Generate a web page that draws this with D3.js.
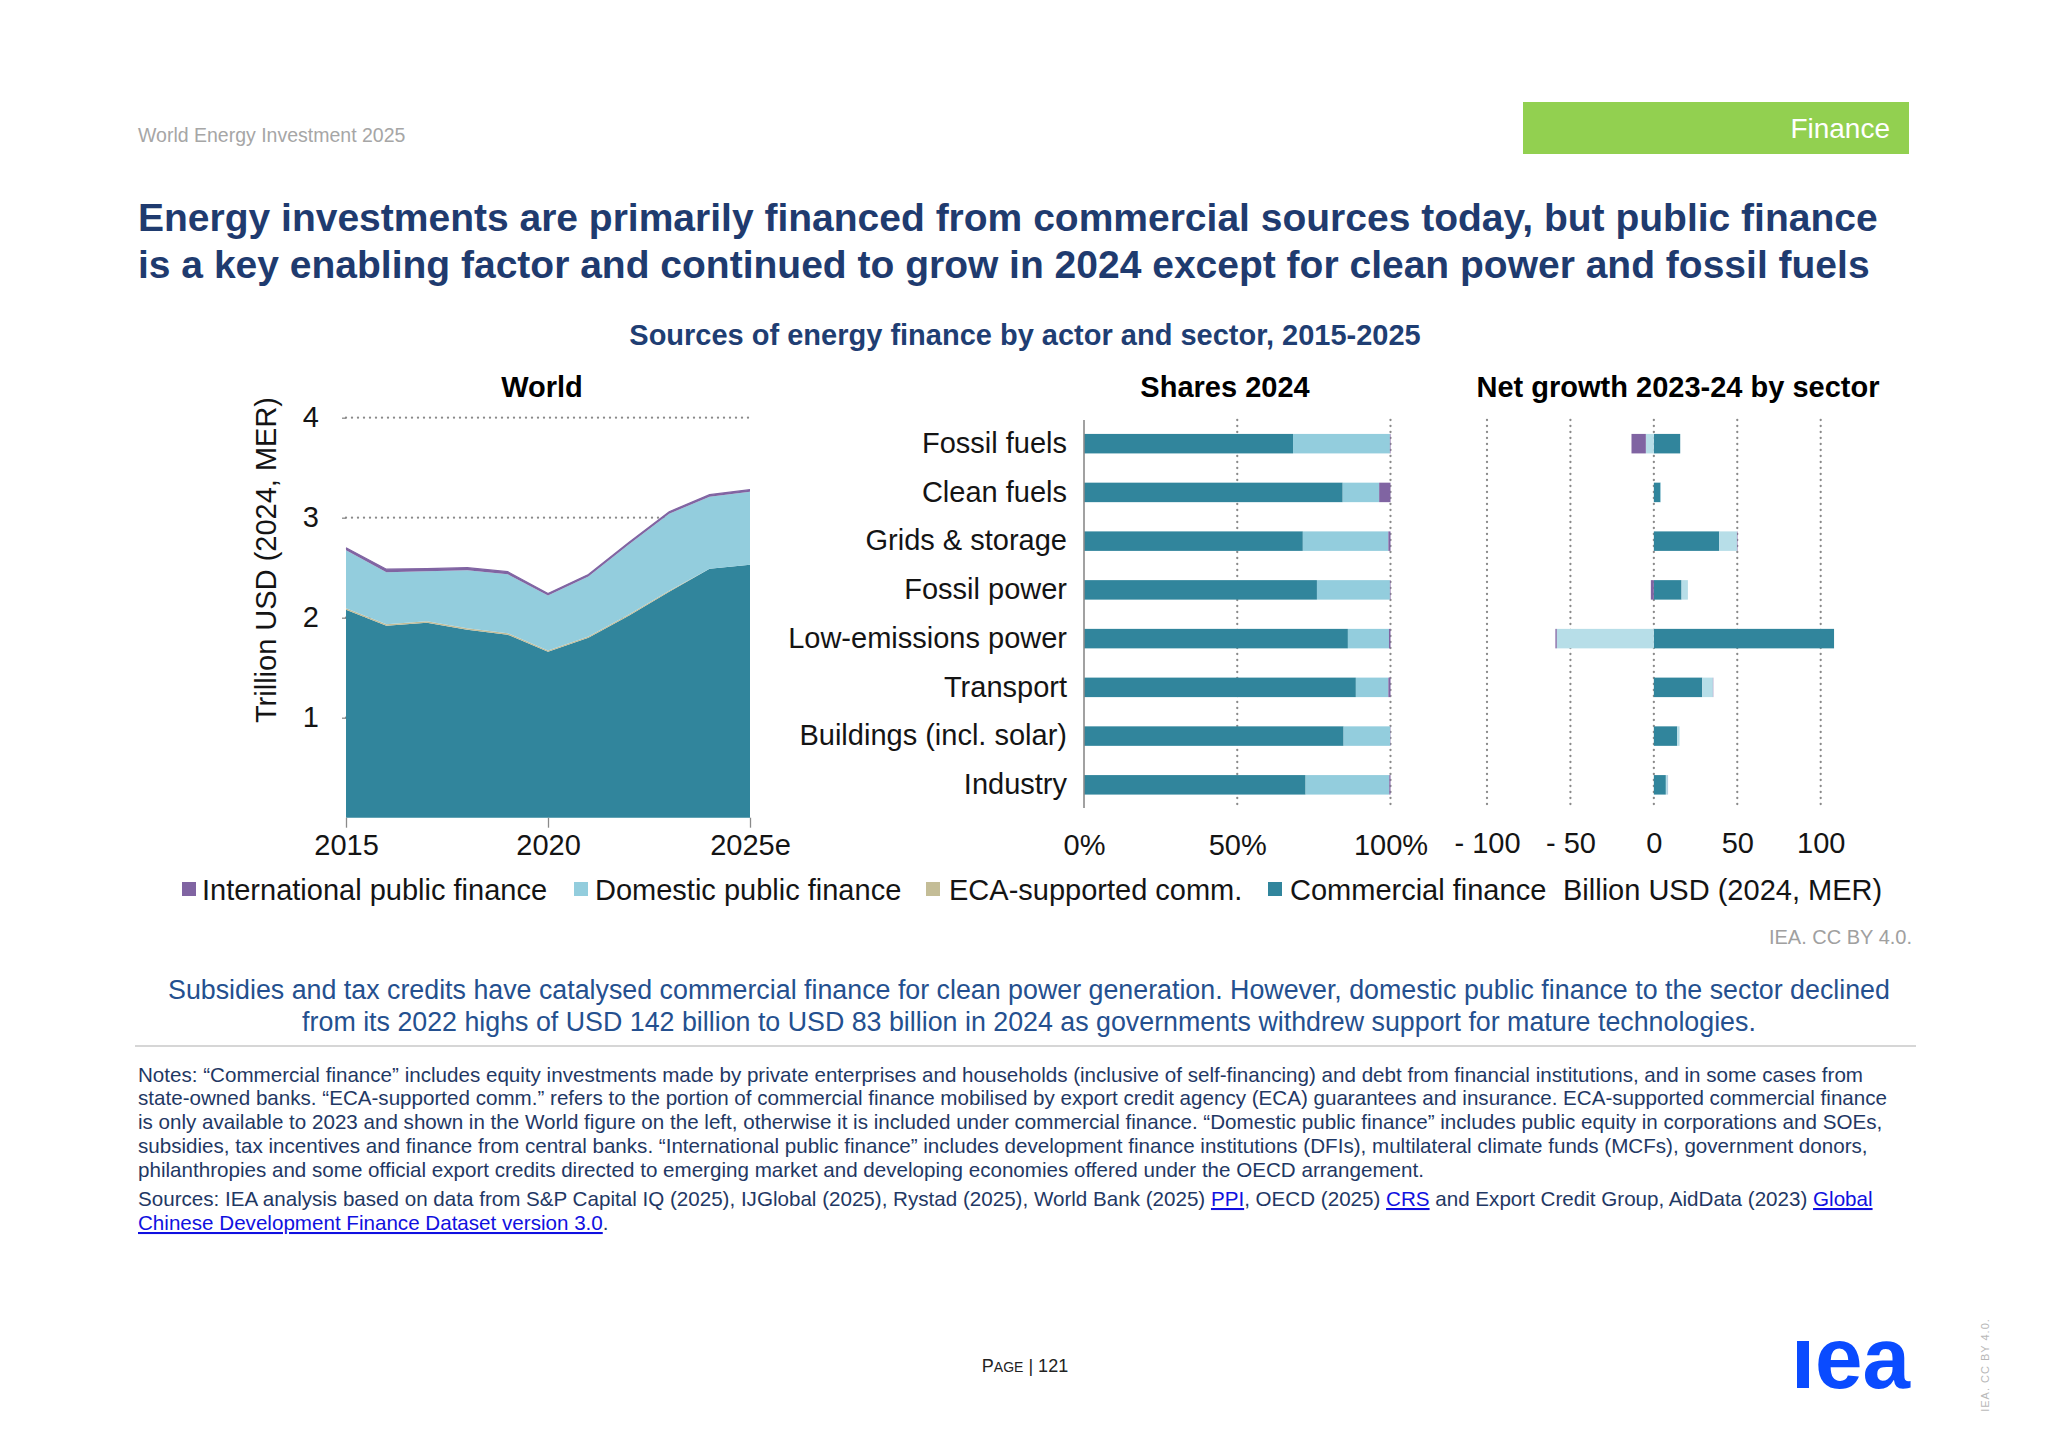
<!DOCTYPE html>
<html><head><meta charset="utf-8">
<script src="https://cdn.jsdelivr.net/npm/d3@7"></script>
<style>
body{margin:0;background:#fff;}
svg{display:block;font-family:"Liberation Sans",Arial,Helvetica,sans-serif;}
</style></head><body>
<svg id="c" width="2048" height="1448"></svg>
<script>
// ---------- DATA ----------
const years = [2015,2016,2017,2018,2019,2020,2021,2022,2023,2024,2025];
const yearTicks = [2015,2020,2025];
const yearTickLabels = ["2015","2020","2025e"];
// Trillion USD (2024, MER)
const worldCommercial = [2.08,1.92,1.95,1.88,1.83,1.66,1.80,2.02,2.26,2.49,2.53];
const worldECA        = [0.015,0.015,0.015,0.015,0.015,0.012,0.012,0.012,0.010,0,0];
const worldDomestic   = [0.58,0.52,0.50,0.58,0.59,0.55,0.60,0.70,0.77,0.72,0.73];
const worldIntl       = [0.025,0.03,0.025,0.025,0.025,0.02,0.02,0.02,0.02,0.02,0.02];
const worldYTicks = [1,2,3,4];

const sectors = ["Fossil fuels","Clean fuels","Grids & storage","Fossil power","Low-emissions power","Transport","Buildings (incl. solar)","Industry"];
// Shares 2024, %
const shareCommercial = [68.2,84.4,71.4,76.0,86.1,88.7,84.7,72.3];
const shareDomestic   = [31.6,11.9,27.9,23.8,13.4,10.6,15.2,27.3];
const shareIntl       = [0.2,3.7,0.7,0.2,0.5,0.7,0.1,0.4];
const shareTicks = [0,50,100];
const shareTickLabels = ["0%","50%","100%"];
// Net growth 2023-24, billion USD (2024, MER)
const netCommercial = [15.8,4.0,39.2,16.6,108.0,29.0,14.0,7.2];
const netDomestic   = [-4.8,0.3,10.6,3.8,-58.2,6.4,1.4,1.2];
const netIntl       = [-8.6,0,0.3,-1.8,-0.8,0.2,0,0.1];
const netTicks = [-100,-50,0,50,100];
const netTickLabels = ["- 100","- 50","0","50","100"];

const legendLabels = ["International public finance","Domestic public finance","ECA-supported comm.","Commercial finance"];

// ---------- STYLE ----------
const C = {commercial:"#31859c", eca:"#c4bd97", domestic:"#93cddd", intl:"#8064a2", netDomestic:"#b7dee8"};
const TXT = "#141414";
const FS = 29;

const svg = d3.select("#c");
const dotted = sel => sel.attr("stroke","#8a8a8a").attr("stroke-width",2.3)
  .attr("stroke-dasharray","0,6").attr("stroke-linecap","round").attr("fill","none");

// ---------- HEADER ----------
svg.append("text").attr("x",138).attr("y",142).attr("font-size",19.5).attr("fill","#a6a6a6")
  .text("World Energy Investment 2025");
svg.append("rect").attr("x",1523).attr("y",102).attr("width",386).attr("height",52).attr("fill","#92d050");
svg.append("text").attr("x",1890).attr("y",138).attr("text-anchor","end").attr("font-size",28)
  .attr("fill","#fff").text("Finance");

const titleLines = ["Energy investments are primarily financed from commercial sources today, but public finance",
  "is a key enabling factor and continued to grow in 2024 except for clean power and fossil fuels"];
svg.selectAll("text.title").data(titleLines).join("text").attr("class","title")
  .attr("x",138).attr("y",(d,i)=>231+i*47).attr("font-size",39).attr("font-weight","bold")
  .attr("fill","#1f3b6f").text(d=>d);

svg.append("text").attr("x",1025).attr("y",345).attr("text-anchor","middle").attr("font-size",FS)
  .attr("font-weight","bold").attr("fill","#1f3e73").text("Sources of energy finance by actor and sector, 2015-2025");

const panelTitles = [["World",542],["Shares 2024",1225],["Net growth 2023-24 by sector",1678]];
svg.selectAll("text.ptitle").data(panelTitles).join("text").attr("class","ptitle")
  .attr("x",d=>d[1]).attr("y",397).attr("text-anchor","middle").attr("font-size",FS)
  .attr("font-weight","bold").attr("fill","#000").text(d=>d[0]);

// ---------- WORLD AREA ----------
const x = d3.scaleLinear().domain([2015,2025]).range([346,750]);
const y = d3.scaleLinear().domain([0,4]).range([817.7,417.7]);
const gW = svg.append("g");
gW.selectAll("line.grid").data(worldYTicks).join("line").attr("class","grid")
  .attr("x1",x(2015)).attr("x2",x(2025)).attr("y1",d=>y(d)).attr("y2",d=>y(d)).call(dotted);

const rows = years.map((yr,i)=>({year:yr, commercial:worldCommercial[i], eca:worldECA[i], domestic:worldDomestic[i], intl:worldIntl[i]}));
const keys = ["commercial","eca","domestic","intl"];
const stacked = d3.stack().keys(keys)(rows);
const area = d3.area().x(d=>x(d.data.year)).y0(d=>y(d[0])).y1(d=>y(d[1]));
gW.selectAll("path.area").data(stacked).join("path").attr("class","area")
  .attr("d",area).attr("fill",d=>C[d.key]);
// thin top line for the narrow public international band
gW.append("path").datum(stacked[3]).attr("fill","none").attr("stroke",C.intl).attr("stroke-width",1.2)
  .attr("d",d3.line().x(d=>x(d.data.year)).y(d=>y(d[1])));

const yAx = gW.append("g").attr("transform",`translate(${x(2015)},0)`)
  .call(d3.axisLeft(y).tickValues(worldYTicks).tickSize(4).tickPadding(23).tickFormat(d3.format("d")));
const xAx = gW.append("g").attr("transform",`translate(0,${y(0)})`)
  .call(d3.axisBottom(x).tickValues(yearTicks).tickSize(10).tickPadding(7).tickFormat((d,i)=>yearTickLabels[i]));
[yAx,xAx].forEach(a=>{a.select(".domain").remove();
  a.selectAll(".tick line").attr("stroke","#8a8a8a").attr("stroke-width",1.3);
  a.selectAll("text").attr("font-size",FS).attr("fill",TXT).attr("font-family",null);});
svg.append("text").attr("transform","translate(276,560) rotate(-90)").attr("text-anchor","middle")
  .attr("font-size",FS).attr("fill",TXT).text("Trillion USD (2024, MER)");

// ---------- SHARES ----------
const yb = d3.scaleBand().domain(sectors).range([419.3,809.2]).paddingInner(0.6).paddingOuter(0.3);
const xs = d3.scaleLinear().domain([0,100]).range([1084,1390.5]);
const gS = svg.append("g");
gS.selectAll("line.grid").data(shareTicks.slice(1)).join("line").attr("class","grid")
  .attr("x1",d=>xs(d)).attr("x2",d=>xs(d)).attr("y1",420).attr("y2",810).call(dotted);
const shareRows = sectors.map((s,i)=>({sector:s, commercial:shareCommercial[i], domestic:shareDomestic[i], intl:shareIntl[i]}));
const sStack = d3.stack().keys(["commercial","domestic","intl"])(shareRows);
gS.selectAll("g.ser").data(sStack).join("g").attr("class","ser").attr("fill",d=>C[d.key])
  .selectAll("rect").data(d=>d).join("rect")
  .attr("x",d=>xs(d[0])).attr("width",d=>Math.max(0,xs(d[1])-xs(d[0])))
  .attr("y",d=>yb(d.data.sector)).attr("height",yb.bandwidth());
gS.append("line").attr("x1",xs(0)).attr("x2",xs(0)).attr("y1",420).attr("y2",808)
  .attr("stroke","#8a8a8a").attr("stroke-width",1.6);
const sAxL = gS.append("g").attr("transform",`translate(${xs(0)},0)`)
  .call(d3.axisLeft(yb).tickSize(0).tickPadding(17));
const sAxB = gS.append("g").attr("transform",`translate(0,810)`)
  .call(d3.axisBottom(xs).tickValues(shareTicks).tickSize(0).tickPadding(24).tickFormat((d,i)=>shareTickLabels[i]));
[sAxL,sAxB].forEach(a=>{a.select(".domain").remove();
  a.selectAll("text").attr("font-size",FS).attr("fill",TXT).attr("font-family",null);});

// ---------- NET GROWTH ----------
const xn = d3.scaleLinear().domain([-100,100]).range([1487,1820.7]);
const gN = svg.append("g");
gN.selectAll("line.grid").data(netTicks).join("line").attr("class","grid")
  .attr("x1",d=>xn(d)).attr("x2",d=>xn(d)).attr("y1",420).attr("y2",805).call(dotted);
const netRows = sectors.map((s,i)=>({sector:s, commercial:netCommercial[i], domestic:netDomestic[i], intl:netIntl[i]}));
const nStack = d3.stack().keys(["commercial","domestic","intl"]).offset(d3.stackOffsetDiverging)(netRows);
const netColor = {commercial:C.commercial, domestic:C.netDomestic, intl:C.intl};
gN.selectAll("g.ser").data(nStack).join("g").attr("class","ser").attr("fill",d=>netColor[d.key])
  .selectAll("rect").data(d=>d).join("rect")
  .attr("x",d=>xn(Math.min(d[0],d[1]))).attr("width",d=>Math.abs(xn(d[1])-xn(d[0])))
  .attr("y",d=>yb(d.data.sector)).attr("height",yb.bandwidth());
const nAx = gN.append("g").attr("transform",`translate(0,805)`)
  .call(d3.axisBottom(xn).tickValues(netTicks).tickSize(0).tickPadding(27).tickFormat((d,i)=>netTickLabels[i]));
nAx.select(".domain").remove();
nAx.selectAll("text").attr("font-size",FS).attr("fill",TXT).attr("font-family",null);

// ---------- LEGEND ----------
const legendPos = [[182,202],[574,595],[926,949],[1268,1290]];
const legendKeys = ["intl","domestic","eca","commercial"];
const gL = svg.append("g");
legendLabels.forEach((lab,i)=>{
  gL.append("rect").attr("x",legendPos[i][0]).attr("y",882).attr("width",14).attr("height",14).attr("fill",C[legendKeys[i]]);
  gL.append("text").attr("x",legendPos[i][1]).attr("y",900).attr("font-size",FS).attr("fill",TXT).text(lab);
});
gL.append("text").attr("x",1563).attr("y",900).attr("font-size",FS).attr("fill",TXT).text("Billion USD (2024, MER)");
svg.append("text").attr("x",1912).attr("y",944).attr("text-anchor","end").attr("font-size",20)
  .attr("fill","#a0a0a0").text("IEA. CC BY 4.0.");

// ---------- SUMMARY ----------
const summary = ["Subsidies and tax credits have catalysed commercial finance for clean power generation. However, domestic public finance to the sector declined",
  "from its 2022 highs of USD 142 billion to USD 83 billion in 2024 as governments withdrew support for mature technologies."];
svg.selectAll("text.sum").data(summary).join("text").attr("class","sum")
  .attr("x",1029).attr("y",(d,i)=>999+i*31.5).attr("text-anchor","middle").attr("font-size",26.8)
  .attr("fill","#24508f").text(d=>d);
svg.append("line").attr("x1",135).attr("x2",1916).attr("y1",1046).attr("y2",1046)
  .attr("stroke","#c8c8c8").attr("stroke-width",1.6);

// ---------- NOTES ----------
const notes = ["Notes: \u201CCommercial finance\u201D includes equity investments made by private enterprises and households (inclusive of self-financing) and debt from financial institutions, and in some cases from",
 "state-owned banks. \u201CECA-supported comm.\u201D refers to the portion of commercial finance mobilised by export credit agency (ECA) guarantees and insurance. ECA-supported commercial finance",
 "is only available to 2023 and shown in the World figure on the left, otherwise it is included under commercial finance. \u201CDomestic public finance\u201D includes public equity in corporations and SOEs,",
 "subsidies, tax incentives and finance from central banks. \u201CInternational public finance\u201D includes development finance institutions (DFIs), multilateral climate funds (MCFs), government donors,",
 "philanthropies and some official export credits directed to emerging market and developing economies offered under the OECD arrangement."];
const NOTE = "#1f3864", LINK = "#1010e0";
svg.selectAll("text.note").data(notes).join("text").attr("class","note")
  .attr("x",138).attr("y",(d,i)=>1081.5+i*23.8).attr("font-size",20.6).attr("fill",NOTE).text(d=>d);
const src1 = [["Sources: IEA analysis based on data from S&P Capital IQ (2025), IJGlobal (2025), Rystad (2025), World Bank (2025) ",0],["PPI",1],[", OECD (2025) ",0],["CRS",1],[" and Export Credit Group, AidData (2023) ",0],["Global",1]];
const src2 = [["Chinese Development Finance Dataset version 3.0",1],[".",0]];
[[src1,1206],[src2,1230]].forEach(([parts,yy])=>{
  const t = svg.append("text").attr("x",138).attr("y",yy).attr("font-size",20.6).attr("fill",NOTE);
  parts.forEach(p=>t.append("tspan").text(p[0]).attr("fill",p[1]?LINK:NOTE)
    .attr("text-decoration",p[1]?"underline":null).style("white-space","pre"));
});

// ---------- FOOTER ----------
const pg = svg.append("text").attr("x",1025).attr("y",1372).attr("text-anchor","middle").attr("fill","#222").attr("font-size",18);
pg.append("tspan").text("P");
pg.append("tspan").attr("font-size",14).text("AGE");
pg.append("tspan").text(" | 121").style("white-space","pre");

svg.append("rect").attr("x",1797).attr("y",1341).attr("width",12).attr("height",47).attr("fill","#0a4bff");
svg.append("text").attr("x",1815).attr("y",1388).attr("font-size",88).attr("font-weight","bold")
  .attr("fill","#0a4bff").attr("textLength",95).attr("lengthAdjust","spacingAndGlyphs").text("ea");
svg.append("text").attr("transform","translate(1989,1365) rotate(-90)").attr("text-anchor","middle")
  .attr("font-size",11).attr("fill","#b8b8b8").attr("letter-spacing",1).text("IEA. CC BY 4.0.");
</script>
</body></html>
